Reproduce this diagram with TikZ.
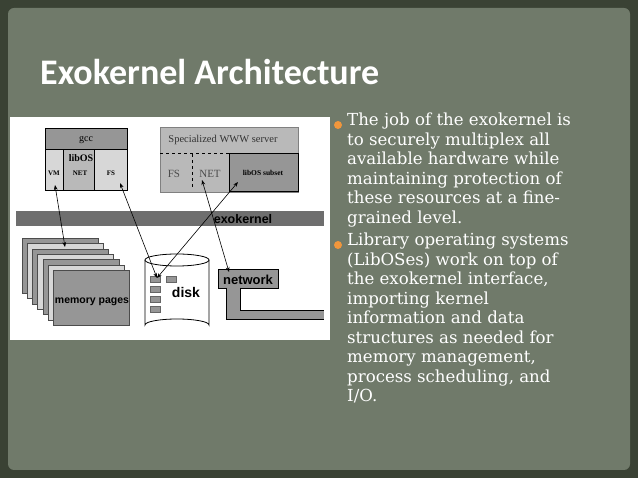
\documentclass[tikz,border=0pt]{standalone}
\usepackage{fontspec}
\setmainfont{DejaVu Serif}
\newfontfamily\titlefont{Carlito}
\newfontfamily\diagsans{Liberation Sans}
\newfontfamily\diagserif{Liberation Serif}
\usetikzlibrary{arrows.meta}
\definecolor{slidebg}{RGB}{112,122,106}
\definecolor{slideedge}{RGB}{58,66,52}
\definecolor{bullet}{RGB}{240,150,60}
\definecolor{gdark}{RGB}{150,150,150}
\definecolor{gmid}{RGB}{185,185,185}
\definecolor{glight}{RGB}{215,215,215}
\definecolor{gbar}{RGB}{110,110,110}
\tikzset{
  box/.style={draw=black, line width=1pt},
  dlabel/.style={font=\diagserif\bfseries\fontsize{7}{8}\selectfont, inner sep=0},
  blabel/.style={font=\diagsans\bfseries\fontsize{12.5}{13}\selectfont, inner sep=0},
  link/.style={{Stealth[length=5pt]}-{Stealth[length=5pt]}, line width=0.6pt},
  pagebox/.style={draw=black!70, line width=0.5pt},
  bodytext/.style={text=white, align=left, anchor=north west, inner sep=0, font=\fontsize{16.6}{19.5}\selectfont}
}
\begin{document}
\begin{tikzpicture}[x=1pt,y=-1pt]
\useasboundingbox (0,0) rectangle (638,478);
\fill[slideedge] (0,0) rectangle (638,478);
\fill[slidebg, rounded corners=6pt] (8,8) rectangle (630,470);
% title
\node[text=white, anchor=west, inner sep=0, font=\titlefont\bfseries\fontsize{36}{40}\selectfont] (title) at (40,72) {Exokernel Architecture};
% white panel
\fill[white] (10,117) rectangle (330,340);
% gcc box
\fill[gdark] (45,129) rectangle (127,150);
\fill[glight] (45,150) rectangle (63,191);
\fill[gmid] (63,150) rectangle (94,191);
\fill[glight] (94,150) rectangle (127,191);
\draw[box] (45,129) rectangle (127,191);
\draw[box] (45,150) -- (127,150);
\draw[line width=0.8pt] (63,150) -- (63,191) (94,150) -- (94,191);
\node[dlabel, font=\diagserif\fontsize{10}{10}\selectfont] (gcc) at (86,140) {gcc};
\node[dlabel, font=\diagserif\bfseries\fontsize{10}{10}\selectfont] (libos) at (81,158) {libOS};
\node[dlabel] (vm) at (54,173) {VM};
\node[dlabel] (net1) at (80,173) {NET};
\node[dlabel] (fs1) at (111,173) {FS};
% WWW box
\fill[gmid] (160,127) rectangle (298,192);
\fill[gdark] (229,154) rectangle (298,192);
\draw[black!50, line width=0.5pt] (160,127) rectangle (298,192);
\draw[box] (229,154) rectangle (298,192);
\draw[dashed, line width=1pt] (160,154) -- (229,154) (192,154) -- (192,188);
\node[dlabel, font=\diagserif\fontsize{10.5}{10}\selectfont, text=black!80] (www) at (223,140) {Specialized WWW server};
\node[dlabel, font=\diagserif\fontsize{11}{10}\selectfont, text=black!70] (fs2) at (174,174) {FS};
\node[dlabel, font=\diagserif\fontsize{11}{10}\selectfont, text=black!70] (net2) at (210,174) {NET};
\node[dlabel, font=\diagserif\bfseries\fontsize{7.5}{8}\selectfont] (subset) at (263,173) {libOS subset};
% exokernel bar
\fill[gbar] (16,211) rectangle (324,226);
\node[blabel] (exo) at (243,219) {exokernel};
% memory pages
\foreach \i/\c in {0/gdark,1/glight,2/gdark,3/glight,4/gdark,5/glight,6/gdark}{
  \filldraw[pagebox, fill=\c] ({22+\i*5.2},{238+\i*5.4}) rectangle ({98+\i*5.2},{293+\i*5.4});
}
\coordinate (mem) at (65,247);
\node[blabel, font=\diagsans\bfseries\fontsize{10.5}{11}\selectfont] (memlbl) at (92,302) {memory pages};
% disk
\draw[line width=0.8pt, fill=white] (145,260) -- (145,325) arc[start angle=180, end angle=360, x radius=32, y radius=6] -- (209,260);
\draw[line width=0.8pt, fill=white] (177,260) ellipse[x radius=32, y radius=6];
\foreach \yy in {276,286,296,306}{\filldraw[draw=black!60, fill=gdark, line width=0.4pt] (150,\yy) rectangle (160,{\yy+6});}
\filldraw[draw=black!60, fill=gdark, line width=0.4pt] (166,276) rectangle (176,282);
\node[blabel, font=\diagsans\bfseries\fontsize{14}{14}\selectfont] (disk) at (186,292) {disk};
\coordinate (diskin) at (157,278);
% network
\fill[gdark] (218,269) rectangle (278,288);
\draw[line width=0.8pt] (218,269) rectangle (278,288);
\fill[gdark] (226,288) rectangle (240,319);
\fill[gdark] (226,310) rectangle (324,319);
\draw[line width=0.8pt] (226,288) -- (226,319) -- (324,319) (240,288) -- (240,310) -- (324,310);
\node[blabel, font=\diagsans\bfseries\fontsize{13}{13}\selectfont] (network) at (248,280) {network};
\coordinate (netin) at (229,272);
% arrows
\coordinate (vmp) at (55,185);
\coordinate (fsp) at (120,183);
\coordinate (subp) at (238,182);
\coordinate (netp) at (202,180);
\draw[link] (vmp) -- (mem);
\draw[link] (fsp) -- (diskin);
\draw[link] (subp) -- (diskin);
\draw[link] (netp) -- (netin);
% text
\fill[bullet] (338,125) circle (4pt);
\node[bodytext] (t1) at (347,113) {The job of the exokernel is\\to securely multiplex all\\available hardware while\\maintaining protection of\\these resources at a fine-\\grained level.};
\fill[bullet] (338,245) circle (4pt);
\node[bodytext] (t2) at (347,233) {Library operating systems\\(LibOSes) work on top of\\the exokernel interface,\\importing kernel\\information and data\\structures as needed for\\memory management,\\process scheduling, and\\I/O.};
\end{tikzpicture}
\end{document}
